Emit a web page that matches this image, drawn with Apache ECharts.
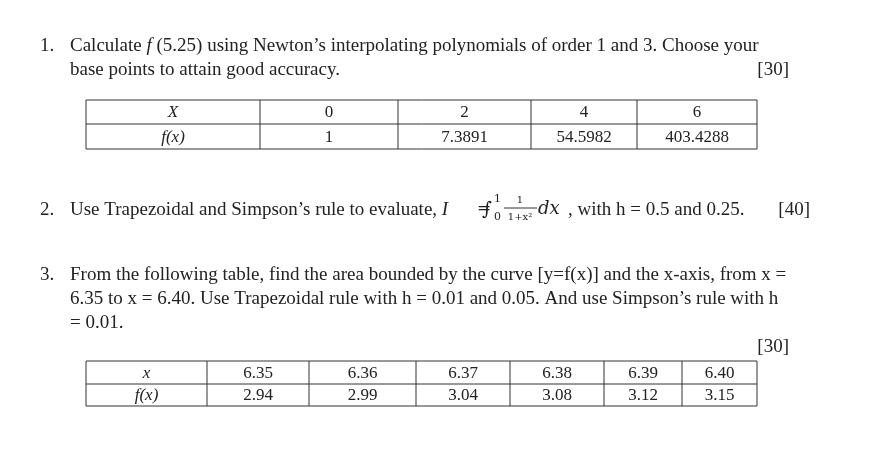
<!DOCTYPE html>
<html><head><meta charset="utf-8">
<script src="https://cdn.jsdelivr.net/npm/echarts@6/dist/echarts.min.js"></script>
<style>html,body{margin:0;padding:0;background:#fff}#c{width:874px;height:454px}</style>
</head><body><div id="c"></div>
<script>
const table1Header = ['X', '0', '2', '4', '6'];
const table1Values = ['f(x)', '1', '7.3891', '54.5982', '403.4288'];
const table2Header = ['x', '6.35', '6.36', '6.37', '6.38', '6.39', '6.40'];
const table2Values = ['f(x)', '2.94', '2.99', '3.04', '3.08', '3.12', '3.15'];

const F = '"Liberation Serif", "Times New Roman", serif';
const M = '"DejaVu Serif", serif';
const els = [];
function txt(x, y, s, opt) {
  opt = opt || {};
  els.push({type:'text', x:x, y:y, style:{text:s, font:(opt.italic?'italic ':'')+(opt.size||19)+'px '+(opt.fam||F), fill:'#222', textAlign:opt.align||'left', textVerticalAlign:'middle', rich:opt.rich}});
}
function line(x1,y1,x2,y2){els.push({type:'line', shape:{x1,y1,x2,y2}, style:{stroke:'#333', lineWidth:1}});}
function table(cols, rows, header, values) {
  for (const y of rows) line(cols[0], y, cols[cols.length-1], y);
  for (const x of cols) line(x, rows[0], x, rows[rows.length-1]);
  [header, values].forEach((arr, r) => arr.forEach((s, i) => {
    txt((cols[i]+cols[i+1])/2, (rows[r]+rows[r+1])/2+1, s, {align:'center', italic:i===0, size:17});
  }));
}
txt(40, 46, '1.');
txt(70, 46, 'Calculate {i|f} (5.25) using Newton’s interpolating polynomials of order 1 and 3. Choose your', {rich:{i:{font:'italic 19px '+F, fill:'#222'}}});
txt(70, 70, 'base points to attain good accuracy.');
txt(789, 70, '[30]', {align:'right'});
table([86,260,398,531,637,757],[100,124,149], table1Header, table1Values);

txt(40, 210, '2.');
txt(70, 210, 'Use Trapezoidal and Simpson’s rule to evaluate, {i|I}', {rich:{i:{font:'italic 19px '+F, fill:'#222'}}});
txt(477, 209, '=', {size:17, fam:M});
txt(482, 210, '∫', {size:19, fam:M});
txt(494, 199, '1', {size:11, fam:M});
txt(494, 217, '0', {size:11, fam:M});
txt(520, 200, '1', {size:10, fam:M, align:'center'});
line(504, 208, 537, 208);
txt(520, 217, '1+x²', {size:10, fam:M, align:'center'});
txt(538, 209, 'dx', {size:18, fam:M, italic:true});
txt(568, 210, ', with h = 0.5 and 0.25.');
txt(810, 210, '[40]', {align:'right'});

txt(40, 275, '3.');
txt(70, 275, 'From the following table, find the area bounded by the curve [y=f(x)] and the x-axis, from x =');
txt(70, 299, '6.35 to x = 6.40. Use Trapezoidal rule with h = 0.01 and 0.05. And use Simpson’s rule with h');
txt(70, 323, '= 0.01.');
txt(789, 347, '[30]', {align:'right'});
table([86,207,309,416,510,604,682,757],[361,384,406], table2Header, table2Values);

const chart = echarts.init(document.getElementById('c'));
chart.setOption({animation:false, graphic:{elements:els}});
</script></body></html>
